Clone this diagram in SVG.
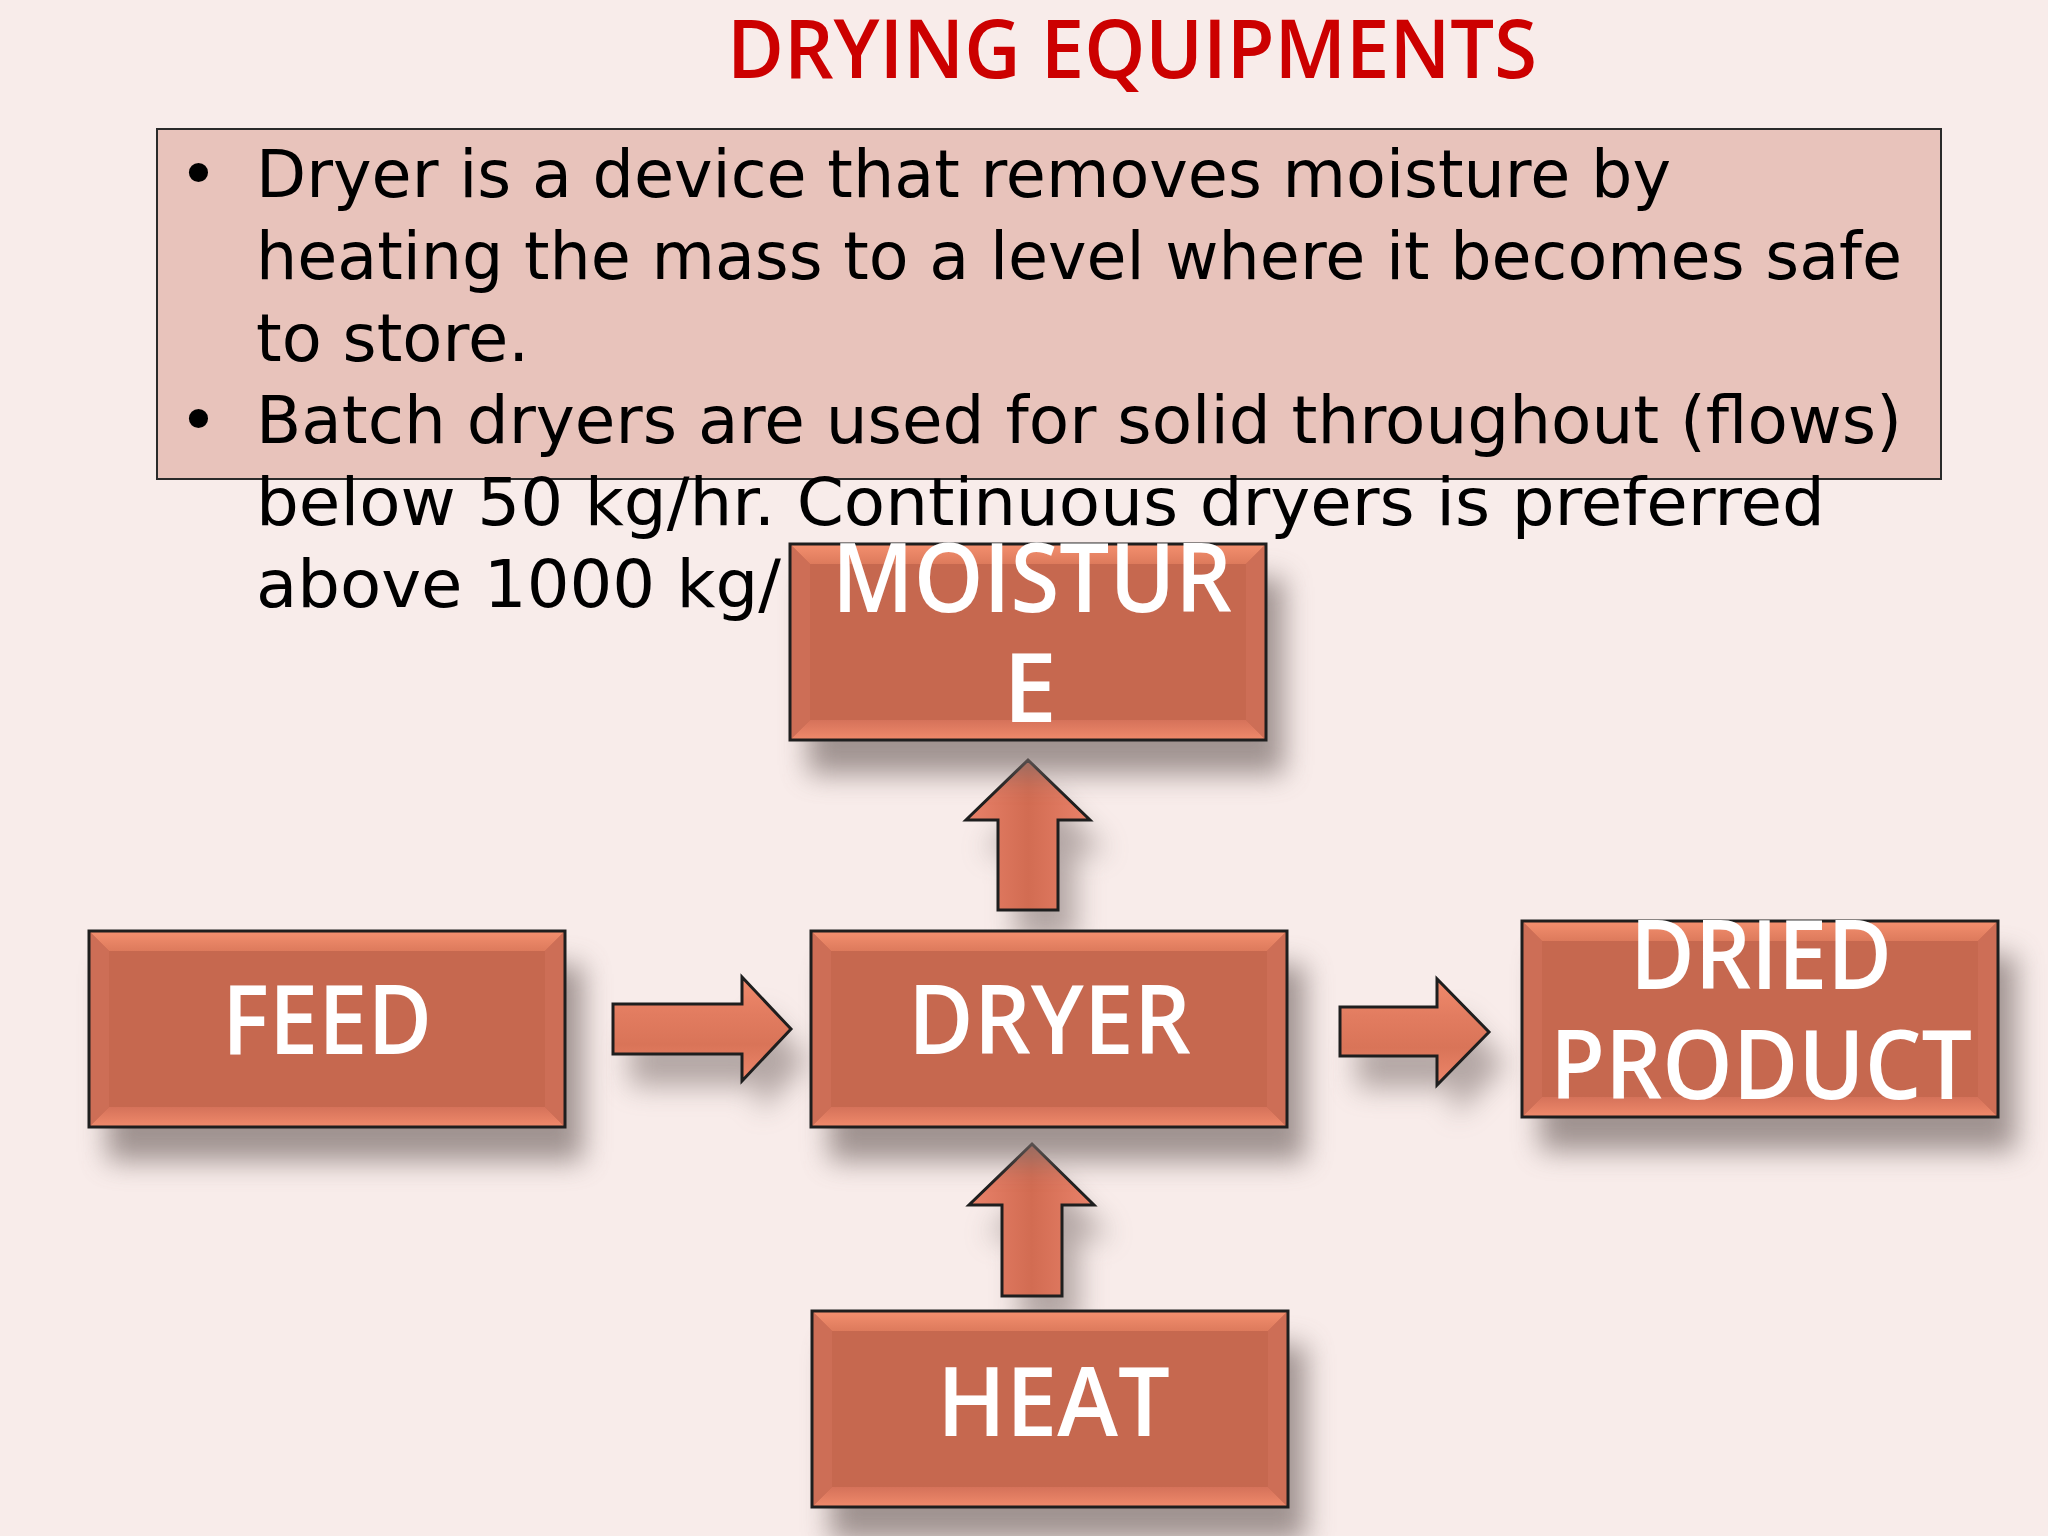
<svg xmlns="http://www.w3.org/2000/svg" xmlns:xlink="http://www.w3.org/1999/xlink" width="2048" height="1536" viewBox="0 0 2048 1536">
<style>
.title{font-family:"Open Sans","Noto Sans",sans-serif;font-size:82px;font-weight:600;fill:#cc0000;}
.body{font-family:"DejaVu Sans",sans-serif;font-size:66px;fill:#000;}
.lbl{font-family:"Open Sans","Noto Sans",sans-serif;font-size:96px;font-weight:600;fill:#fff;}
.arrow{stroke:#1e1e1e;stroke-width:3;stroke-linejoin:miter;}
</style>
<defs>
<filter id="sh" x="-30%" y="-30%" width="160%" height="180%">
<feGaussianBlur stdDeviation="14"/>
</filter>
<linearGradient id="gTop" x1="0" y1="0" x2="0" y2="1">
<stop offset="0" stop-color="#f4906f"/>
<stop offset="1" stop-color="#dd7a5c"/>
</linearGradient>
<linearGradient id="gBot" x1="0" y1="1" x2="0" y2="0">
<stop offset="0" stop-color="#f08a6b"/>
<stop offset="1" stop-color="#d5725a"/>
</linearGradient>
<linearGradient id="gH" x1="0" y1="0" x2="0" y2="1">
<stop offset="0" stop-color="#f08a6c"/>
<stop offset="0.35" stop-color="#e27c60"/>
<stop offset="0.65" stop-color="#d97458"/>
<stop offset="1" stop-color="#ee866a"/>
</linearGradient>
<linearGradient id="gV" x1="0" y1="0" x2="1" y2="0">
<stop offset="0" stop-color="#e9826a"/>
<stop offset="0.5" stop-color="#d26c52"/>
<stop offset="1" stop-color="#e9826a"/>
</linearGradient>
<g id="box">
<rect x="18" y="34" width="476" height="196" fill="#7a6d6a" opacity="0.7" filter="url(#sh)"/>
<rect x="0" y="0" width="476" height="196" fill="#c6684f"/>
<polygon points="0,0 476,0 456,20 20,20" fill="url(#gTop)"/>
<polygon points="0,196 476,196 456,176 20,176" fill="url(#gBot)"/>
<polygon points="0,0 20,20 20,176 0,196" fill="#cd6e56"/>
<polygon points="476,0 456,20 456,176 476,196" fill="#cd6e56"/>
<rect x="0" y="0" width="476" height="196" fill="none" stroke="#1e1e1e" stroke-width="3"/>
</g>
</defs>
<rect width="2048" height="1536" fill="#f8ecea"/>

<g id="title">
<text class="title" x="727" y="78" textLength="810" lengthAdjust="spacingAndGlyphs">DRYING EQUIPMENTS</text>
</g>

<g id="textbox">
<rect x="157" y="129" width="1784" height="350" fill="#e8c3bb" stroke="#2a2a2a" stroke-width="2"/>
<text class="body" x="179" y="197">•</text>
<text class="body" x="256" y="197" textLength="1415" lengthAdjust="spacingAndGlyphs">Dryer is a device that removes moisture by</text>
<text class="body" x="256" y="279" textLength="1646" lengthAdjust="spacingAndGlyphs">heating the mass to a level where it becomes safe</text>
<text class="body" x="256" y="361" textLength="273" lengthAdjust="spacingAndGlyphs">to store.</text>
<text class="body" x="179" y="443">•</text>
<text class="body" x="256" y="443" textLength="1646" lengthAdjust="spacingAndGlyphs">Batch dryers are used for solid throughout (flows)</text>
<text class="body" x="256" y="525" textLength="1569" lengthAdjust="spacingAndGlyphs">below 50 kg/hr. Continuous dryers is preferred</text>
<text class="body" x="256" y="607" textLength="525" lengthAdjust="spacingAndGlyphs">above 1000 kg/</text>
</g>

<g id="connectors">
<g opacity="0.55" filter="url(#sh)" fill="#7a6d6a">
<polygon points="630,1036 759,1036 759,1009 808,1061 759,1113 759,1086 630,1086"/>
<polygon points="1357,1039 1454,1039 1454,1011 1506,1064 1454,1117 1454,1088 1357,1088"/>
<polygon points="1045,792 1107,852 1076,852 1076,942 1015,942 1015,852 983,852"/>
<polygon points="1049,1176 1111,1237 1079,1237 1079,1328 1019,1328 1019,1237 986,1237"/>
</g>
<polygon class="arrow" fill="url(#gH)" points="613,1004 742,1004 742,977 791,1029 742,1081 742,1054 613,1054"/>
<polygon class="arrow" fill="url(#gH)" points="1340,1007 1437,1007 1437,979 1489,1032 1437,1085 1437,1056 1340,1056"/>
<polygon class="arrow" fill="url(#gV)" points="1028,760 1090,820 1058,820 1058,910 998,910 998,820 966,820"/>
<polygon class="arrow" fill="url(#gV)" points="1032,1144 1094,1205 1062,1205 1062,1296 1002,1296 1002,1205 969,1205"/>
</g>

<g id="node-moisture">
<use xlink:href="#box" href="#box" transform="translate(790,544)"/>
<text class="lbl" x="832" y="612" textLength="400" lengthAdjust="spacingAndGlyphs">MOISTUR</text>
<text class="lbl" x="1030" y="722" text-anchor="middle">E</text>
</g>

<g id="node-feed">
<use xlink:href="#box" href="#box" transform="translate(89,931)"/>
<text class="lbl" x="222" y="1054" textLength="210" lengthAdjust="spacingAndGlyphs">FEED</text>
</g>

<g id="node-dryer">
<use xlink:href="#box" href="#box" transform="translate(811,931)"/>
<text class="lbl" x="908" y="1054" textLength="283" lengthAdjust="spacingAndGlyphs">DRYER</text>
</g>

<g id="node-dried-product">
<use xlink:href="#box" href="#box" transform="translate(1522,921)"/>
<text class="lbl" x="1630" y="989" textLength="262" lengthAdjust="spacingAndGlyphs">DRIED</text>
<text class="lbl" x="1550" y="1099" textLength="422" lengthAdjust="spacingAndGlyphs">PRODUCT</text>
</g>

<g id="node-heat">
<use xlink:href="#box" href="#box" transform="translate(812,1311)"/>
<text class="lbl" x="937" y="1436" textLength="233" lengthAdjust="spacingAndGlyphs">HEAT</text>
</g>
</svg>
